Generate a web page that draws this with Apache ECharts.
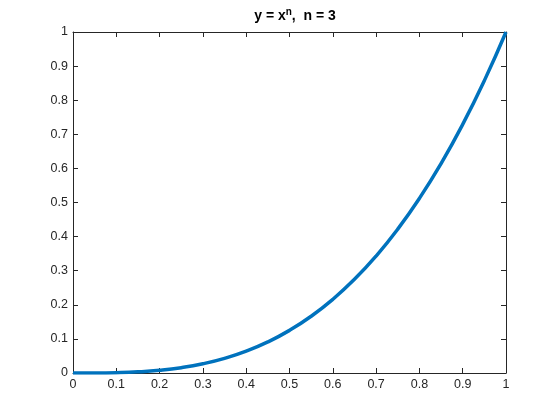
<!DOCTYPE html>
<html><head><meta charset="utf-8">
<script src="https://cdn.jsdelivr.net/npm/echarts@6/dist/echarts.min.js"></script>
<style>html,body{margin:0;padding:0;background:#fff}#c{width:560px;height:420px}</style>
</head><body><div id="c"></div>
<script>
const xValues = [0,0.05,0.1,0.15,0.2,0.25,0.3,0.35,0.4,0.45,0.5,0.55,0.6,0.65,0.7,0.75,0.8,0.85,0.9,0.95,1];
const yValues = [0,0.0001,0.001,0.0034,0.008,0.0156,0.027,0.0429,0.064,0.0911,0.125,0.1664,0.216,0.2746,0.343,0.4219,0.512,0.6141,0.729,0.8574,1];
const titleText = '{a|y = x}{sup|n}{a|,  n = 3}';

const chart = echarts.init(document.getElementById('c'));
const axCol = '#262626';
const font = 'Liberation Sans, Arial, sans-serif';
function mkAxis(extra){
  return Object.assign({
    type:'value', min:0, max:1, interval:0.1,
    axisLine:{show:true, onZero:false, lineStyle:{color:axCol, width:1}},
    axisTick:{show:true, inside:true, length:5, lineStyle:{color:axCol}},
    splitLine:{show:false},
    axisLabel:{color:axCol, fontSize:12.5, fontFamily:font, margin:5}
  }, extra);
}
chart.setOption({
  animation:false,
  title:{
    text:titleText, left:290, top:2, textAlign:'center',
    textStyle:{rich:{
      a:{fontSize:14, fontWeight:'bold', color:'#000', fontFamily:font},
      sup:{fontSize:10, fontWeight:'bold', color:'#000', fontFamily:font, padding:[0,0,9,0]}
    }}
  },
  grid:{left:73, right:54, top:32, bottom:47},
  xAxis:[
    mkAxis({position:'bottom'}),
    mkAxis({position:'top', axisLabel:{show:false}})
  ],
  yAxis:[
    mkAxis({position:'left'}),
    mkAxis({position:'right', axisLabel:{show:false}})
  ],
  series:[{
    type:'line', xAxisIndex:0, yAxisIndex:0,
    data:xValues.map((x,i)=>[x,yValues[i]]),
    smooth:true, showSymbol:false,
    lineStyle:{color:'#0072BD', width:3.5}
  }]
});
</script></body></html>
